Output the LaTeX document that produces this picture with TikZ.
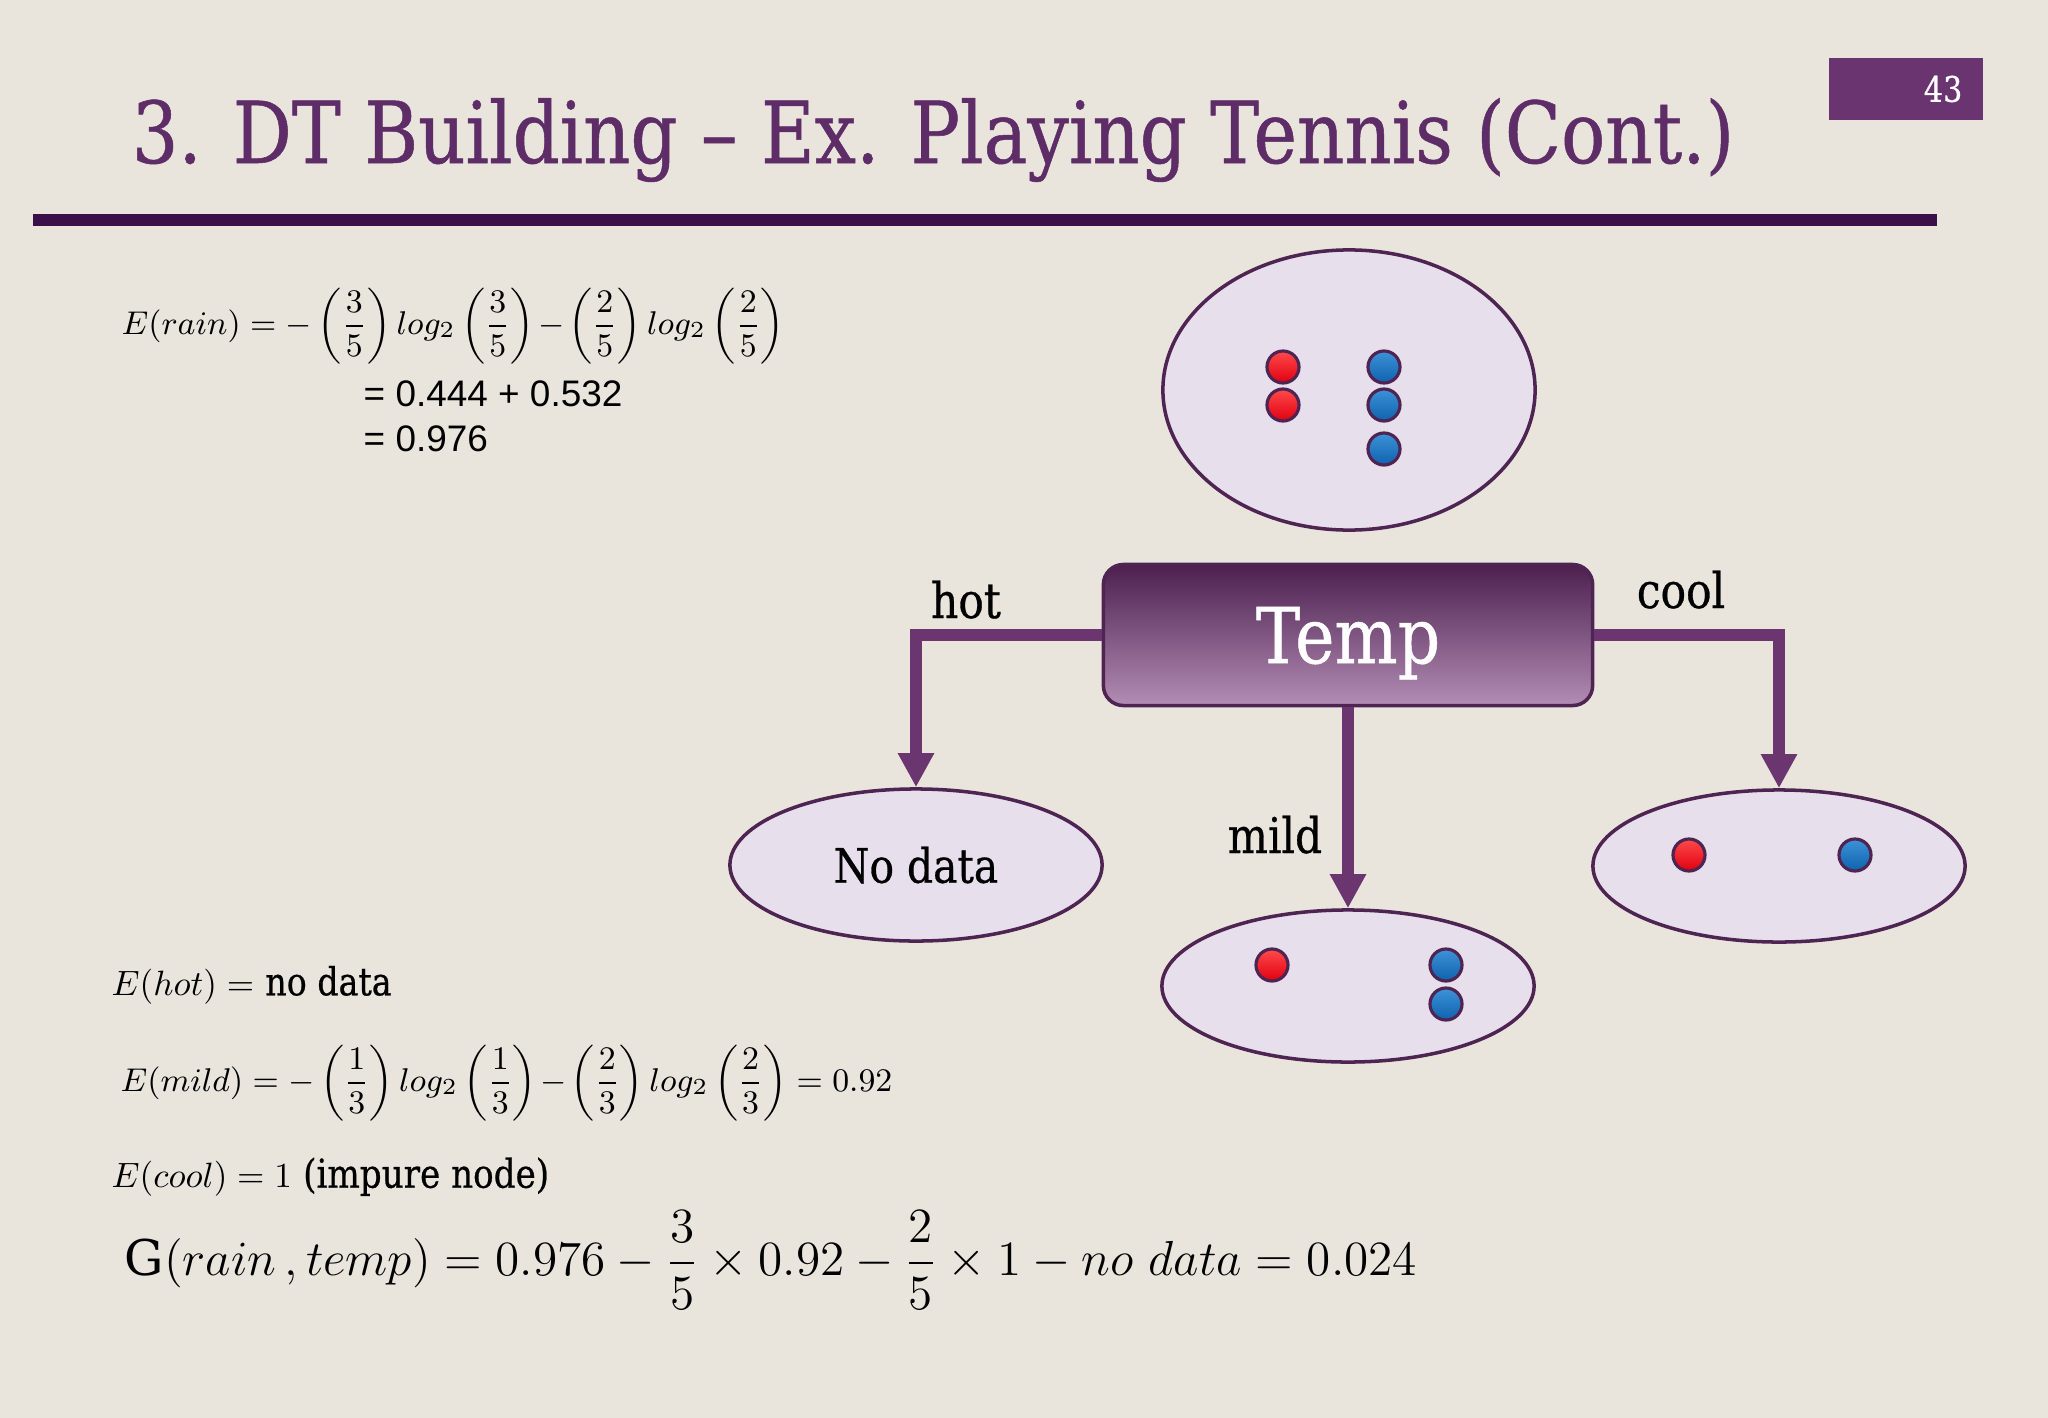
\RequirePackage{fix-cm}
\documentclass[tikz,border=0pt]{standalone}
\usepackage{amsmath}
\usepackage{fontspec}
\setmainfont{DejaVu Serif}
\newfontfamily\slabfont[FakeStretch=0.86,FakeBold=0.6]{DejaVu Serif}
\newfontfamily\numfont{Liberation Sans}
\usetikzlibrary{arrows.meta,positioning,shapes.geometric}
\definecolor{paper}{HTML}{E9E5DD}
\definecolor{titlepurple}{HTML}{5E2D68}
\definecolor{rulepurple}{HTML}{3B1049}
\definecolor{boxpurple}{HTML}{6A3471}
\definecolor{armpurple}{HTML}{6B3570}
\definecolor{edgepurple}{HTML}{4E2452}
\definecolor{lavender}{HTML}{E7DFEC}
\definecolor{tempdark}{HTML}{4C1F4F}
\definecolor{templight}{HTML}{B28DB4}
\definecolor{redtop}{HTML}{FF4A4A}
\definecolor{redbot}{HTML}{E00010}
\definecolor{bluetop}{HTML}{3D92D8}
\definecolor{bluebot}{HTML}{0F62AE}
\tikzset{
  leaf/.style={ellipse, draw=edgepurple, line width=1pt, fill=lavender,
    minimum width=3.72cm, minimum height=1.52cm, inner sep=0pt},
  ball/.style={circle, draw=edgepurple, line width=0.9pt, minimum size=0.32cm, inner sep=0pt},
  redball/.style={ball, top color=redtop, bottom color=redbot},
  blueball/.style={ball, top color=bluetop, bottom color=bluebot},
  branch/.style={draw=armpurple, line width=3.2pt, -{Triangle[length=0.34cm,width=0.34cm]}},
  lbl/.style={font=\slabfont\fontsize{14}{16}\selectfont, inner sep=0pt},
  formula/.style={anchor=west, inner sep=0pt, font=\fontsize{9.35}{12}\selectfont}
}
\begin{document}
\begin{tikzpicture}[x=0.01cm, y=-0.01cm]
  % Page and background
  \useasboundingbox (0,0) rectangle (2048,1418);
  \fill[paper] (0,0) rectangle (2048,1418);
  % Slide header
  \node[anchor=base west, inner sep=0pt, text=titlepurple,
    font=\slabfont\fontsize{24.3}{30}\selectfont] (title) at (131,163)
    {3. DT Building – Ex. Playing Tennis (Cont.)};
  \fill[rulepurple] (33,214) rectangle (1937,226);
  \node[fill=boxpurple, minimum width=1.54cm, minimum height=0.62cm, inner sep=0pt] (pagebox) at (1906,89) {};
  \node[anchor=east, text=white, inner sep=0pt, font=\slabfont\fontsize{10}{12}\selectfont] (pagenum) at (1963,89) {43};

  % Root set
  \node[leaf, minimum width=3.72cm, minimum height=2.80cm] (rootset) at (1349,390) {};
  \node[redball] (r1) at (1283,367) {};
  \node[redball] (r2) at (1283,405) {};
  \node[blueball] (b1) at (1384,367) {};
  \node[blueball] (b2) at (1384,405) {};
  \node[blueball] (b3) at (1384,449) {};

  % Test node
  \node[rectangle, rounded corners=0.2cm, draw=edgepurple, line width=1pt,
    top color=tempdark, bottom color=templight, text=white, text depth=0pt,
    minimum width=4.89cm, minimum height=1.41cm,
    font=\slabfont\fontsize{22}{24}\selectfont] (temp) at (1348,635) {Temp};

  % Children
  \node[leaf, font=\slabfont\fontsize{13.5}{15}\selectfont] (nodata) at (916,865) {No data};
  \node[leaf] (mildset) at (1348,986) {};
  \node[leaf] (coolset) at (1779,866) {};
  \node[redball] (mr1) at (1272,965) {};
  \node[blueball] (mb1) at (1446,965) {};
  \node[blueball] (mb2) at (1446,1004) {};
  \node[redball] (cr1) at (1689,855) {};
  \node[blueball] (cb1) at (1855,855) {};

  % Branches
  \draw[branch] (temp.west) -| (nodata.north);
  \draw[branch] (temp.east) -| (coolset.north);
  \draw[branch] (temp.south) -- (mildset.north);
  \node[lbl, anchor=base] (hot) at (966,618) {hot};
  \node[lbl, anchor=base] (cool) at (1681,608) {cool};
  \node[lbl, anchor=base] (mild) at (1275,853) {mild};

  % Entropy of rain
  \node[formula] (erain) at (121,326)
    {$\medmuskip=2mu E(rain) = -\left(\dfrac{3}{5}\right) log_2 \left(\dfrac{3}{5}\right) - \left(\dfrac{2}{5}\right) log_2 \left(\dfrac{2}{5}\right)$};
  \node[anchor=west, inner sep=0pt, font=\numfont\fontsize{10.5}{13}\selectfont] (rainsum) at (363,394) {= 0.444 + 0.532};
  \node[anchor=west, inner sep=0pt, font=\numfont\fontsize{10.5}{13}\selectfont] (rainres) at (363,439) {= 0.976};

  % Entropy of branches
  \node[formula, font=\fontsize{10}{12}\selectfont] (ehot) at (111,985) {$E(hot) = $ {\slabfont\fontsize{11}{12}\selectfont no data}};
  \node[formula] (emild) at (120,1083)
    {$\medmuskip=2mu E(mild) = -\left(\dfrac{1}{3}\right) log_2 \left(\dfrac{1}{3}\right) - \left(\dfrac{2}{3}\right) log_2 \left(\dfrac{2}{3}\right) = 0.92$};
  \node[formula, font=\fontsize{10}{12}\selectfont] (ecool) at (111,1177) {$E(cool) = 1$ {\slabfont\fontsize{11.3}{12}\selectfont (impure node)}};

  % Gain
  \node[formula, font=\fontsize{14}{17}\selectfont] (gain) at (124,1260)
    {$\mathrm{G}(rain\,, temp) = 0.976 - \dfrac{3}{5} \times 0.92 - \dfrac{2}{5} \times 1 - no\ data = 0.024$};
\end{tikzpicture}
\end{document}
